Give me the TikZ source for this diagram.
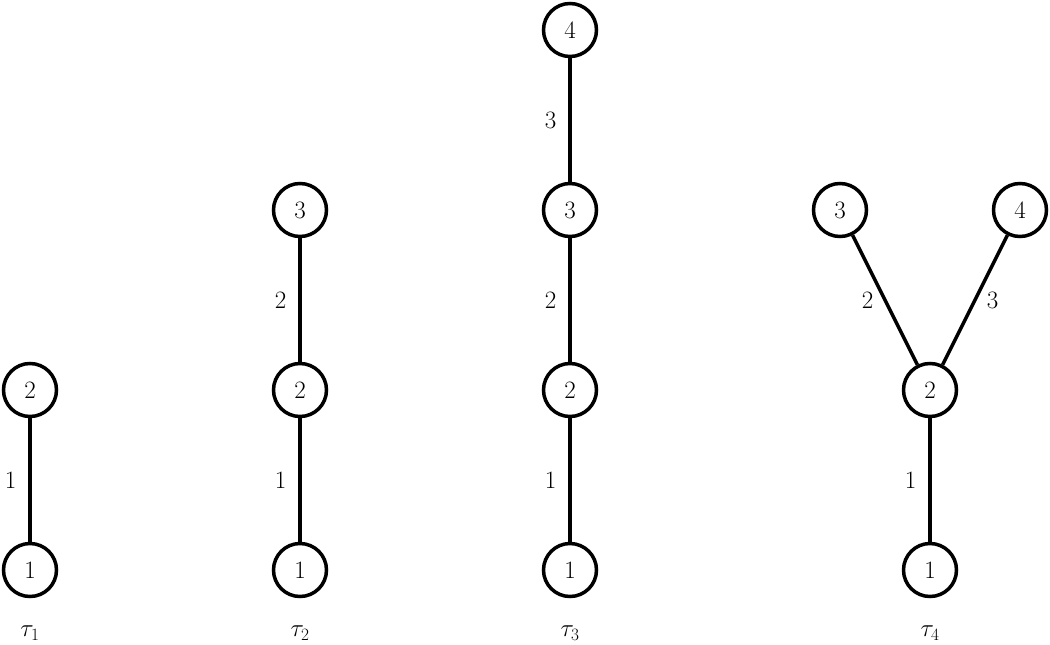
\documentclass[tikz,border=0pt]{standalone}
\begin{document}
\begin{tikzpicture}[x=1pt,y=-1pt,
  vert/.style={circle,draw,line width=3.5pt,minimum size=53pt,inner sep=0pt,font=\fontsize{25}{30}\selectfont},
  edge/.style={line width=3.5pt},
  lab/.style={font=\fontsize{25}{30}\selectfont,inner sep=0pt},
  tlab/.style={font=\fontsize{25}{30}\selectfont}]
\useasboundingbox (0,0) rectangle (1050,645);
% tree 1
\node[vert] (a1) at (30,570) {1};
\node[vert] (a2) at (30,390) {2};
\draw[edge] (a1) -- node[lab,left=12pt]{1} (a2);
\node[tlab] (t1) at (30,633) {$\tau_1$};
% tree 2
\node[vert] (b1) at (300,570) {1};
\node[vert] (b2) at (300,390) {2};
\node[vert] (b3) at (300,210) {3};
\draw[edge] (b1) -- node[lab,left=12pt]{1} (b2);
\draw[edge] (b2) -- node[lab,left=12pt]{2} (b3);
\node[tlab] (t2) at (300,633) {$\tau_2$};
% tree 3
\node[vert] (c1) at (570,570) {1};
\node[vert] (c2) at (570,390) {2};
\node[vert] (c3) at (570,210) {3};
\node[vert] (c4) at (570,30) {4};
\draw[edge] (c1) -- node[lab,left=12pt]{1} (c2);
\draw[edge] (c2) -- node[lab,left=12pt]{2} (c3);
\draw[edge] (c3) -- node[lab,left=12pt]{3} (c4);
\node[tlab] (t3) at (570,633) {$\tau_3$};
% tree 4
\node[vert] (d1) at (930,570) {1};
\node[vert] (d2) at (930,390) {2};
\node[vert] (d3) at (840,210) {3};
\node[vert] (d4) at (1020,210) {4};
\draw[edge] (d1) -- node[lab,left=12pt]{1} (d2);
\draw[edge] (d2) -- node[lab,left=10pt]{2} (d3);
\draw[edge] (d2) -- node[lab,right=10pt]{3} (d4);
\node[tlab] (t4) at (930,633) {$\tau_4$};
\end{tikzpicture}
\end{document}
